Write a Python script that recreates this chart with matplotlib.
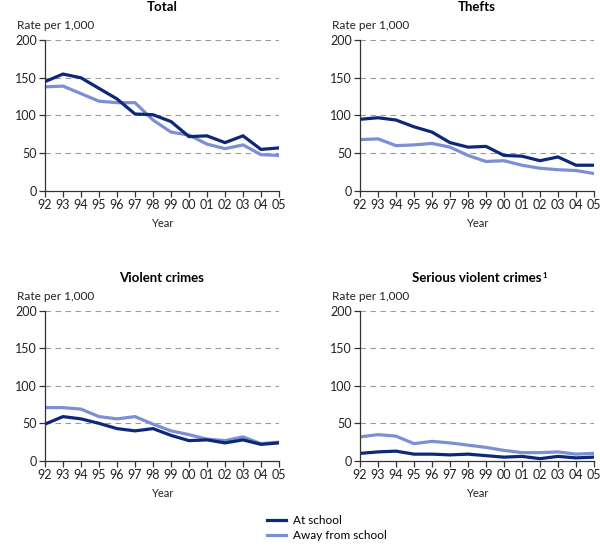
import numpy as np
import matplotlib
matplotlib.use("Agg")
import matplotlib.pyplot as plt

plt.rcParams['font.family'] = ['Lato', 'DejaVu Sans']

years = ['92', '93', '94', '95', '96', '97', '98', '99', '00', '01', '02', '03', '04', '05']

total_school = [145, 155, 150, 136, 122, 102, 101, 92, 72, 73, 64, 73, 55, 57]
total_away = [138, 139, 129, 119, 117, 117, 94, 78, 74, 62, 56, 61, 48, 47]

thefts_school = [95, 97, 94, 85, 78, 64, 58, 59, 47, 46, 40, 45, 34, 34]
thefts_away = [68, 69, 60, 61, 63, 58, 47, 39, 40, 34, 30, 28, 27, 23]

violent_school = [49, 59, 56, 50, 43, 40, 43, 34, 27, 28, 24, 28, 22, 24]
violent_away = [71, 71, 69, 59, 56, 59, 49, 40, 35, 29, 27, 32, 23, 25]

serious_school = [10, 12, 13, 9, 9, 8, 9, 7, 5, 6, 3, 6, 4, 5]
serious_away = [32, 35, 33, 23, 26, 24, 21, 18, 14, 11, 11, 12, 9, 10]

panels = [
    ("Total", total_school, total_away),
    ("Thefts", thefts_school, thefts_away),
    ("Violent crimes", violent_school, violent_away),
    ("Serious violent crimes", serious_school, serious_away),
]

DARK = '#0d2878'
LIGHT = '#7d8fd3'
AXC = '#333333'

fig = plt.figure(figsize=(6, 5.5), dpi=100)

# left, bottom, width, height in figure fractions
boxes = [
    (0.075, 0.653, 0.39, 0.274),
    (0.600, 0.653, 0.39, 0.274),
    (0.075, 0.162, 0.39, 0.273),
    (0.600, 0.162, 0.39, 0.273),
]

x = np.arange(len(years))
titles = []
for (title, school, away), box in zip(panels, boxes):
    ax = fig.add_axes(box)
    for y in [50, 100, 150, 200]:
        ax.axhline(y, color='#9a9a9a', lw=0.8, ls=(0, (5, 4)), zorder=0)
    ax.plot(x, away, color=LIGHT, lw=2.3, solid_joinstyle='miter')
    ax.plot(x, school, color=DARK, lw=2.3, solid_joinstyle='miter')
    ax.set_xlim(0, len(years) - 1)
    ax.set_ylim(0, 200)
    ax.set_xticks(x)
    ax.set_xticklabels(years)
    ax.set_yticks([0, 50, 100, 150, 200])
    for s in ['top', 'right']:
        ax.spines[s].set_visible(False)
    for s in ['left', 'bottom']:
        ax.spines[s].set_color(AXC)
        ax.spines[s].set_linewidth(0.9)
    ax.tick_params(axis='both', colors=AXC, labelcolor='#222222', labelsize=9,
                   length=4, width=0.9, pad=2)
    ax.set_xlabel('Year', fontsize=8, color='#222222', labelpad=5)
    t = ax.set_title(title, fontsize=9.5, fontweight='bold', pad=21)
    titles.append(t)
    ax.text(-0.12, 1.06, 'Rate per 1,000', transform=ax.transAxes,
            fontsize=8.5, color='#222222', ha='left', va='bottom')

# small footnote marker after the last title
fig.canvas.draw()
bb = titles[3].get_window_extent().transformed(fig.transFigure.inverted())
fig.text(bb.x1 + 0.002, bb.y1 - 0.001, '1', fontsize=5.5, fontweight='bold',
         ha='left', va='top')

handles = [plt.Line2D([], [], color=DARK, lw=2.3), plt.Line2D([], [], color=LIGHT, lw=2.3)]
fig.legend(handles, ['At school', 'Away from school'], loc='center',
           bbox_to_anchor=(0.545, 0.04), frameon=False, fontsize=8.5,
           handlelength=1.6, handletextpad=0.6, labelspacing=0.35)

fig.savefig('out.png', dpi=100, facecolor='white')
